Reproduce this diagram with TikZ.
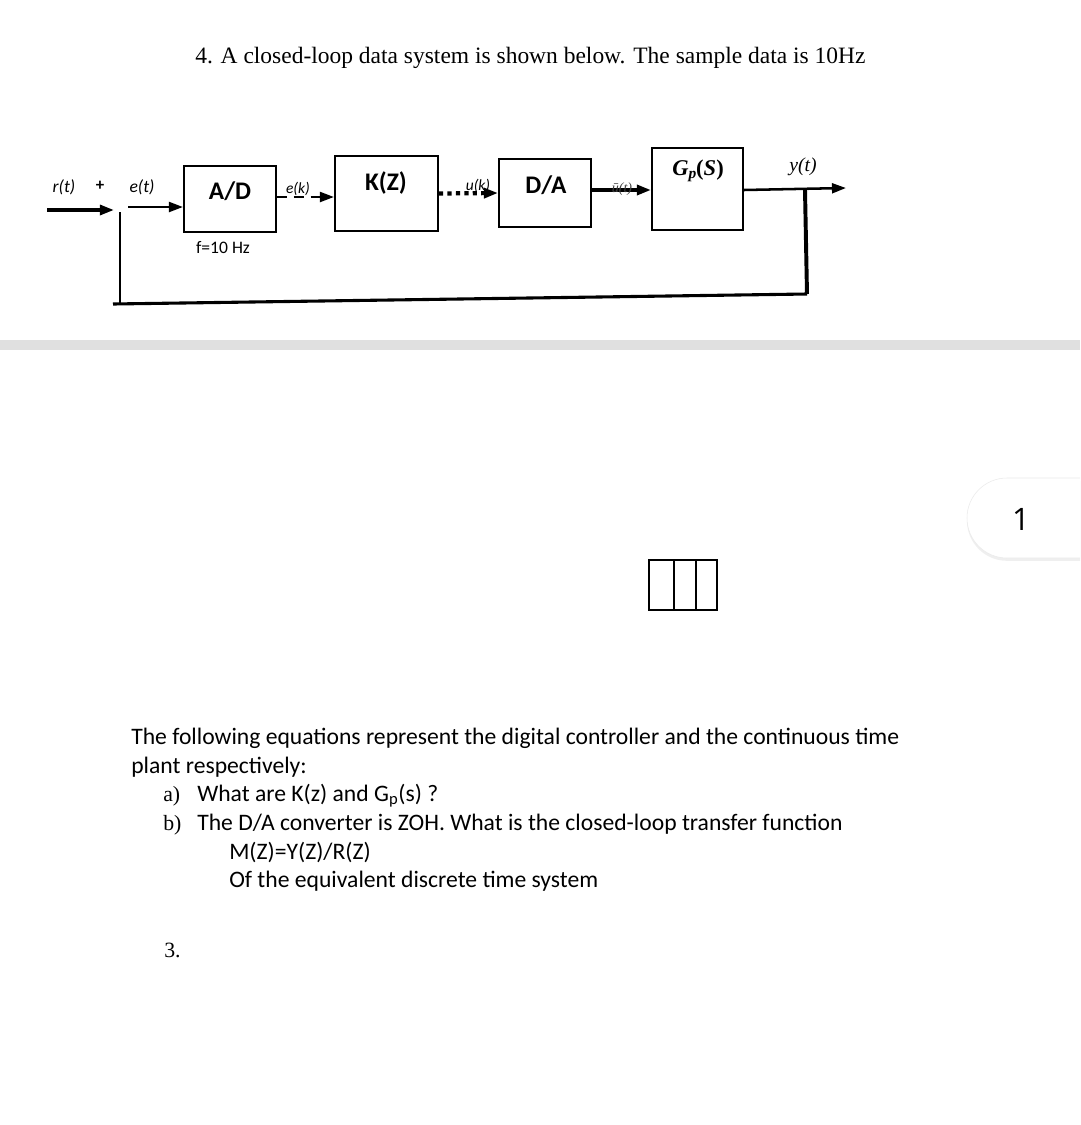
\documentclass[tikz,border=0pt]{standalone}
\usepackage{fontspec}
\setmainfont{Liberation Serif}
\newfontfamily\calibri{Carlito}
\newfontfamily\pagefont{Open Sans}
\usepackage{tikz}
\usetikzlibrary{arrows.meta,shadows}

\begin{document}
\begin{tikzpicture}[x=0.025cm,y=-0.025cm]
\tikzstyle{block}=[draw,line width=1.4pt,inner sep=0pt];
\tikzstyle{blocklabel}=[font=\calibri\bfseries\fontsize{18}{20}\selectfont];
\tikzstyle{sig}=[font=\calibri\itshape\fontsize{12.5}{14}\selectfont];
\tikzstyle{body}=[anchor=base west,inner sep=0pt,font=\calibri\fontsize{16.8}{19}\selectfont];
\tikzstyle{serif}=[anchor=base west,inner sep=0pt,font=\fontsize{15.5}{18}\selectfont];
\tikzstyle{wire}=[line width=2.4pt,-{Triangle[length=10pt,width=7pt]}];

\useasboundingbox (0,0) rectangle (1080,1125);
\fill[white] (0,0) rectangle (1080,1125);
\clip (0,0) rectangle (1080,1125);

\node[anchor=base west,inner sep=0pt,font=\fontsize{16.7}{19}\selectfont] (title) at (195,63)
  {4. A closed-loop data system is shown below. The sample data is 10Hz};

% blocks
\node[block,minimum width=2.3cm,minimum height=1.65cm] (ad) at (230,199) {};
\node[block,minimum width=2.575cm,minimum height=1.875cm] (kz) at (386.5,193.5) {};
\node[block,minimum width=2.3cm,minimum height=1.7cm] (da) at (545,193) {};
\node[block,minimum width=2.275cm,minimum height=2.05cm] (gp) at (697.5,189) {};

\node[blocklabel] (adtext) at (230,191) {A/D};
\node[blocklabel] (kztext) at (386,183) {K(Z)};
\node[blocklabel] (datext) at (546,185) {D/A};
\node[font=\fontsize{16}{18}\selectfont] (gptext) at (698,171)
  {{\bfseries\itshape G}\raisebox{-0.35ex}{\bfseries\itshape\fontsize{11}{12}\selectfont p}{\bfseries(}{\bfseries\itshape S}{\bfseries)}};
\node[font=\calibri\fontsize{12.5}{14}\selectfont] (freq) at (223,248) {f=10 Hz};

% signal labels
\node[sig] (rt) at (64,187) {r(t)};
\node[font=\calibri\bfseries\fontsize{12}{14}\selectfont] (plus) at (100,186) {+};
\node[sig] (et) at (142,187) {e(t)};
\node[sig,font=\calibri\itshape\fontsize{11}{12}\selectfont] (ek) at (298,189) {e(k)};
\node[sig,font=\calibri\itshape\fontsize{11}{12}\selectfont] (uk) at (478,186) {u(k)};
\node[font=\itshape\fontsize{14}{16}\selectfont] (yt) at (803,167) {y(t)};

% connectors
\coordinate (rin) at (47,210);
\coordinate (sum) at (114,210);
\coordinate (eout) at (128,207);
\coordinate (tap) at (805,190);
\coordinate (yout) at (846,188);
\coordinate (fbr) at (807,294);
\coordinate (fbl) at (113,304);
\coordinate (fbc) at (120,304);
\coordinate (fbtop) at (120,212);

\path[draw][wire] (rin) -- (sum);
\path[draw][wire,line width=1.8pt] (eout) -- (eout -| ad.west);
\path[draw][wire,line width=1.8pt,dash pattern=on 7pt off 5pt] (ad.east |- 0,197) -- (kz.west |- 0,197);
\path[draw][wire,line width=3pt,dash pattern=on 3pt off 3pt] (kz.east) -- (da.west);
\path[draw][wire,line width=3.2pt] (da.east |- tap) -- (gp.west |- tap);
\path[draw][wire,line width=1.8pt] (gp.east |- tap) -- (yout);
\path[draw][line width=2.8pt] (tap) -- (fbr);
\path[draw][line width=2.2pt] (fbr) -- (fbl);
\path[draw][line width=1.5pt] (fbc) -- (fbtop);
\node[font=\itshape\fontsize{10}{12}\selectfont,text=black!75,inner sep=0pt] (ubt) at (622,189) {ū(t)};

% page furniture
\fill[black!12] (0,340) rectangle (1080,350);
\path[fill=white,draw=black!8,rounded corners=1cm,drop shadow={opacity=0.12,shadow xshift=0pt,shadow yshift=-2pt}]
  (967,478) rectangle (1120,558);
\node[font=\pagefont\fontsize{22}{26}\selectfont] (pageno) at (1021,519) {1};

\draw[line width=1.4pt] (649,560) rectangle (717,610);
\draw[line width=1.4pt] (674,560) -- (674,610);
\draw[line width=1.4pt] (696,560) -- (696,610);

% question text
\node[body] (l1) at (131,744) {The following equations represent the digital controller and the continuous time};
\node[body] (l2) at (131,773) {plant respectively:};
\node[serif] (qa) at (163,801) {a)};
\node[body] (la) at (197,801) {What are K(z) and G\textsubscript{p}(s) ?};
\node[serif] (qb) at (163,830) {b)};
\node[body] (lb) at (197,830) {The D/A converter is ZOH. What is the closed-loop transfer function};
\node[body] (lm) at (229,859) {M(Z)=Y(Z)/R(Z)};
\node[body] (lo) at (229,887) {Of the equivalent discrete time system};
\node[serif] (q3) at (164,957) {3.};
\end{tikzpicture}
\end{document}
